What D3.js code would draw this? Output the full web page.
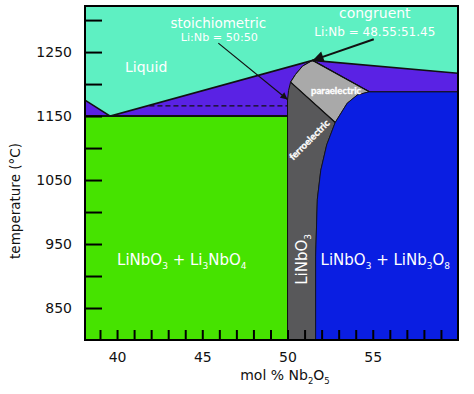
<!DOCTYPE html>
<html>
<head>
<meta charset="utf-8">
<script src="https://cdn.jsdelivr.net/npm/d3@7"></script>
<style>
  html, body { margin: 0; padding: 0; background: #ffffff; }
  svg { display: block; }
  text { font-family: "DejaVu Sans", sans-serif; }
  text.small-bold { font-family: "Lato", "DejaVu Sans", sans-serif; font-weight: 700; stroke: #ffffff; stroke-width: 0.35px; }
</style>
</head>
<body>
<svg id="chart" width="474" height="394"></svg>
<script>
// ---- data (mol % Nb2O5, temperature °C) ----
const xDomain = [38.12, 60];
const yDomain = [800, 1322];
const xTickValues = [39,40,41,42,43,44,45,46,47,48,49,50,51,52,53,54,55,56,57,58,59];
const xTickLabels = [40, 45, 50, 55, 60];
const yTickValues = [850,900,950,1000,1050,1100,1150,1200,1250,1300];
const yTickLabels = [850, 950, 1050, 1150, 1250];

const liquidus = [[38.12,1175],[39.6,1150],[51.47,1237],[60,1217]];
const lnLeftEdge = [[50,800],[50,1175],[50.06,1190],[50.18,1203],[50.47,1215],[50.88,1228],[51.47,1237]];
const solidusRight = [[51.47,1237],[54.8,1188]];
const blueEdge = [[54.8,1188],[54.1,1183],[53.5,1170],[52.8,1140],[52.3,1105],[51.95,1065],[51.75,1020],[51.65,930],[51.65,800]];
const ferroParaLine = [[50.18,1203],[52.8,1140]];
const eutectic1150 = [[38.12,1150],[50,1150]];
const blueTop = [[54.8,1188],[60,1188]];
const stoichDashed = [[41.9,1166],[50,1166]];
const stoichArrow = [[45.94,1264],[50.0,1176]];
const congruentArrow = [[55.06,1270],[51.47,1237]];

// ---- setup ----
const svg = d3.select("#chart");
const mL = 85, mR = 458, mT = 6, mB = 340;
const x = d3.scaleLinear().domain(xDomain).range([mL, mR]);
const y = d3.scaleLinear().domain(yDomain).range([mB, mT]);
const line = d3.line().x(d => x(d[0])).y(d => y(d[1]));
const poly = pts => line(pts) + "Z";

const C = {
  liquid: "#5ef0c2",
  purple: "#5a22e4",
  green: "#46e300",
  blue: "#0a1ee2",
  dark: "#58585a",
  light: "#a9a9a9",
  ink: "#111111"
};

const defs = svg.append("defs");
defs.append("clipPath").attr("id","plot")
  .append("rect").attr("x",mL).attr("y",mT).attr("width",mR-mL).attr("height",mB-mT);
defs.append("marker").attr("id","arrSmall").attr("markerUnits","userSpaceOnUse")
  .attr("viewBox","0 0 10 10").attr("refX",10).attr("refY",5)
  .attr("markerWidth",9).attr("markerHeight",7).attr("orient","auto")
  .append("path").attr("d","M0,0L10,5L0,10Z").attr("fill",C.ink);
defs.append("marker").attr("id","arrBig").attr("markerUnits","userSpaceOnUse")
  .attr("viewBox","0 0 10 10").attr("refX",10).attr("refY",5)
  .attr("markerWidth",17).attr("markerHeight",11).attr("orient","auto")
  .append("path").attr("d","M0,0L10,5L0,10Z").attr("fill",C.ink);

const g = svg.append("g").attr("clip-path","url(#plot)");

// background liquid
g.append("rect").attr("x",mL).attr("y",mT).attr("width",mR-mL).attr("height",mB-mT).attr("fill",C.liquid);
// liquid + solid (purple)
g.append("path").attr("d", poly(liquidus.concat([[60,800],[38.12,800]]))).attr("fill",C.purple);
// LiNbO3 + Li3NbO4 (green)
g.append("path").attr("d", poly([[38.12,800],[38.12,1150],[50,1150],[50,800]])).attr("fill",C.green)
  .attr("stroke",C.ink).attr("stroke-width",0.8);
// LiNbO3 solid solution (dark grey)
g.append("path").attr("d", poly(lnLeftEdge.concat(solidusRight.slice(1), blueEdge.slice(1))))
  .attr("fill",C.dark).attr("stroke",C.ink).attr("stroke-width",1);
// paraelectric (light grey)
const paraPts = lnLeftEdge.slice(3).concat(solidusRight.slice(1), blueEdge.slice(1,4));
g.append("path").attr("d", poly(paraPts)).attr("fill",C.light).attr("stroke",C.ink).attr("stroke-width",1);
// LiNbO3 + LiNb3O8 (blue)
g.append("path").attr("d", poly(blueEdge.concat([[60,800],[60,1188]]))).attr("fill",C.blue)
  .attr("stroke",C.ink).attr("stroke-width",0.8);

// lines
g.append("path").attr("d", line(liquidus)).attr("fill","none").attr("stroke",C.ink).attr("stroke-width",1.6);
g.append("path").attr("d", line(eutectic1150)).attr("fill","none").attr("stroke",C.ink).attr("stroke-width",2);
g.append("path").attr("d", line(ferroParaLine)).attr("fill","none").attr("stroke",C.ink).attr("stroke-width",1.3);
g.append("path").attr("d", line(solidusRight)).attr("fill","none").attr("stroke",C.ink).attr("stroke-width",1.3);
g.append("path").attr("d", line(blueTop)).attr("fill","none").attr("stroke",C.ink).attr("stroke-width",0.8);
g.append("path").attr("d", line(stoichDashed)).attr("fill","none").attr("stroke",C.ink)
  .attr("stroke-width",1.3).attr("stroke-dasharray","5,3");

// arrows
svg.append("path").attr("d", line(stoichArrow)).attr("fill","none").attr("stroke",C.ink)
  .attr("stroke-width",1.2).attr("marker-end","url(#arrSmall)");
svg.append("path").attr("d", line(congruentArrow)).attr("fill","none").attr("stroke",C.ink)
  .attr("stroke-width",2).attr("marker-end","url(#arrBig)");

// labels (with subscripts)
function sublabel(px, py, parts, opts) {
  opts = opts || {};
  const size = opts.size || 15;
  const t = svg.append("text").attr("fill", opts.fill || "#ffffff")
    .attr("font-size", size).attr("text-anchor", opts.anchor || "start");
  if (opts.cls) t.attr("class", opts.cls);
  if (opts.rotate !== undefined) t.attr("transform", `translate(${px},${py}) rotate(${opts.rotate})`);
  else t.attr("x", px).attr("y", py);
  let shifted = false;
  parts.forEach(p => {
    if (typeof p === "string") {
      const s = t.append("tspan").text(p);
      if (shifted) { s.attr("dy", -4); shifted = false; }
    } else {
      t.append("tspan").attr("font-size", size * 0.6).attr("dy", shifted ? 0 : 4).text(p.sub);
      shifted = true;
    }
  });
  return t;
}

sublabel(x(40.47), y(1219), ["Liquid"], {size: 14});
sublabel(x(45.94), y(1288), ["stoichiometric"], {size: 13.5, anchor: "middle"});
sublabel(x(46.0), y(1268), ["Li:Nb = 50:50"], {size: 11.2, anchor: "middle"});
sublabel(x(55.12), y(1304), ["congruent"], {size: 14, anchor: "middle"});
sublabel(x(55.12), y(1275), ["Li:Nb = 48.55:51.45"], {size: 12, anchor: "middle"});
sublabel(x(51.38), y(1184), ["paraelectric"], {size: 9.6, cls: "small-bold"});
sublabel(x(50.33), y(1080), ["ferroelectric"], {size: 9.6, rotate: -45, cls: "small-bold"});
sublabel(x(51.12), y(926), ["LiNbO", {sub:"3"}], {size: 15, rotate: -90, anchor: "middle"});
sublabel(x(40.0), y(917), ["LiNbO", {sub:"3"}, " + Li", {sub:"3"}, "NbO", {sub:"4"}], {size: 15});
sublabel(x(51.94), y(917), ["LiNbO", {sub:"3"}, " + LiNb", {sub:"3"}, "O", {sub:"8"}], {size: 15});

// axes
const yAxis = d3.axisLeft(y).tickValues(yTickValues).tickSizeInner(-17).tickSizeOuter(0)
  .tickPadding(13).tickFormat(d => yTickLabels.includes(d) ? d : "");
const xAxis = d3.axisBottom(x).tickValues(xTickValues).tickSizeInner(-10).tickSizeOuter(0)
  .tickPadding(12).tickFormat(d => xTickLabels.includes(d) ? d : "");
const ya = svg.append("g").attr("transform",`translate(${mL},0)`).call(yAxis);
const xa = svg.append("g").attr("transform",`translate(0,${mB})`).call(xAxis);
[ya, xa].forEach(a => {
  a.selectAll(".tick line").attr("stroke","#000").attr("stroke-width",2);
  a.selectAll("text").attr("font-size",14).attr("fill","#111");
  a.select(".domain").remove();
});
svg.append("rect").attr("x",mL).attr("y",mT).attr("width",mR-mL).attr("height",mB-mT)
  .attr("fill","none").attr("stroke","#000").attr("stroke-width",2);

// axis titles
const xt = svg.append("text").attr("x", 285).attr("y", 380).attr("text-anchor","middle")
  .attr("font-size",14).attr("fill","#111");
xt.append("tspan").text("mol % Nb");
xt.append("tspan").attr("font-size",8.5).attr("dy",4).text("2");
xt.append("tspan").attr("dy",-4).text("O");
xt.append("tspan").attr("font-size",8.5).attr("dy",4).text("5");
svg.append("text").attr("transform","translate(20,201) rotate(-90)").attr("text-anchor","middle")
  .attr("font-size",13.5).attr("fill","#111").text("temperature (°C)");
</script>
</body>
</html>
